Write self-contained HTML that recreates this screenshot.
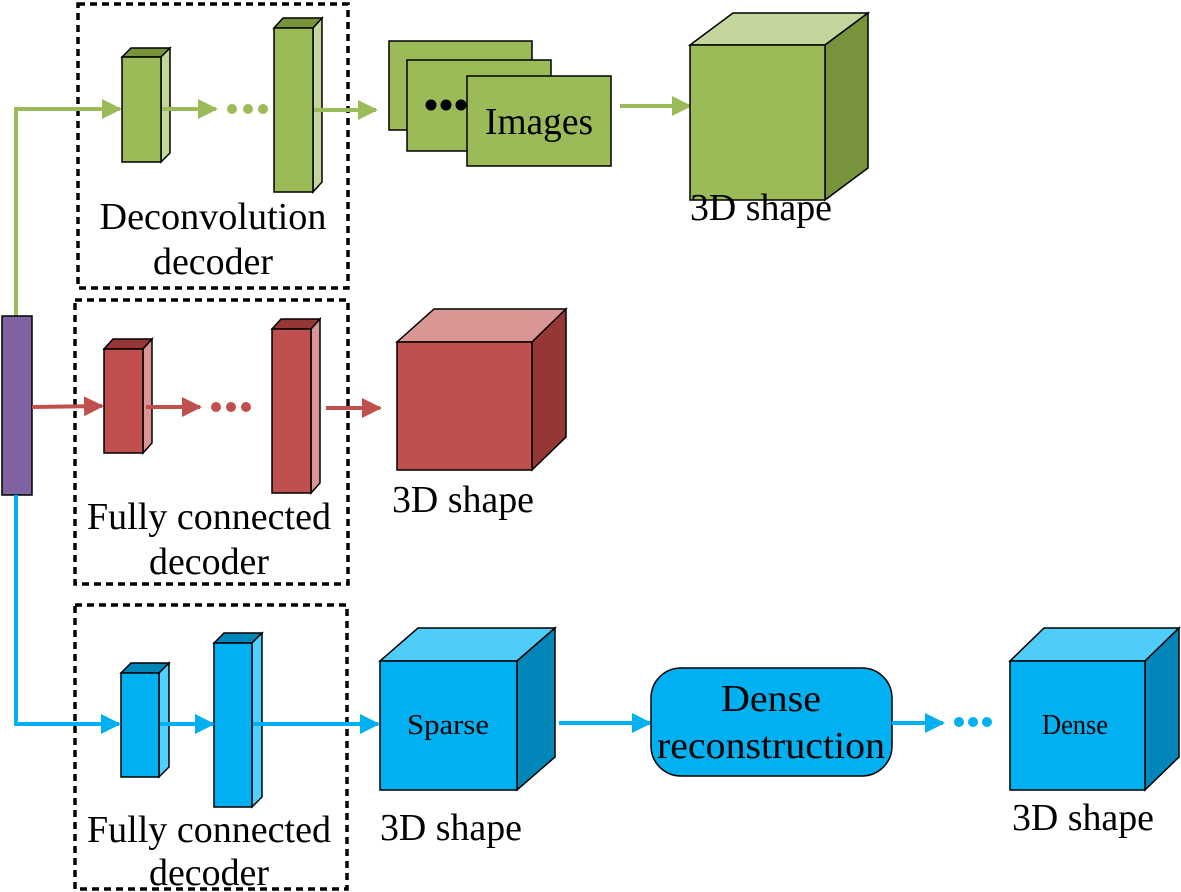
<!DOCTYPE html>
<html><head><style>html,body{margin:0;padding:0;background:#fff}svg{display:block}</style></head>
<body>
<svg width="1181" height="892" viewBox="0 0 1181 892" xmlns="http://www.w3.org/2000/svg" font-family="Liberation Serif, serif">
<defs>
<marker id="ag" markerWidth="5" markerHeight="5" refX="4.5" refY="2.5" orient="auto" markerUnits="strokeWidth"><path d="M0,0 L5,2.5 L0,5 z" fill="#9BBB59"/></marker>
<marker id="ar" markerWidth="5" markerHeight="5" refX="4.5" refY="2.5" orient="auto" markerUnits="strokeWidth"><path d="M0,0 L5,2.5 L0,5 z" fill="#C0504D"/></marker>
<marker id="ab" markerWidth="5" markerHeight="5" refX="4.5" refY="2.5" orient="auto" markerUnits="strokeWidth"><path d="M0,0 L5,2.5 L0,5 z" fill="#00B0F0"/></marker>
</defs>
<g fill="none" stroke="#000" stroke-width="3.5" stroke-dasharray="7,5">
<rect x="78" y="4" width="270" height="284"/>
<rect x="75" y="300" width="273" height="284"/>
<rect x="75" y="605" width="272" height="284"/>
</g>
<!-- green -->
<polyline points="16,316 16,109 120,109" fill="none" stroke="#9BBB59" stroke-width="4" marker-end="url(#ag)"/>
<g stroke="#000" stroke-width="1.5">
<polygon points="122,57 131,48 170,48 161,57" fill="#77933C"/>
<polygon points="161,57 170,48 170,153 161,162" fill="#C3D69B"/>
<rect x="122" y="57" width="39" height="105" fill="#9BBB59"/>
<polygon points="274,28 283,18 322,18 313,28" fill="#77933C"/>
<polygon points="313,28 322,18 322,182 313,192" fill="#C3D69B"/>
<rect x="274" y="28" width="39" height="164" fill="#9BBB59"/>
</g>
<line x1="162" y1="109" x2="216" y2="109" stroke="#9BBB59" stroke-width="4" marker-end="url(#ag)"/>
<g fill="#9BBB59"><circle cx="232" cy="109" r="5"/><circle cx="248" cy="109" r="5"/><circle cx="263" cy="109" r="5"/></g>
<line x1="314" y1="110" x2="376" y2="110" stroke="#9BBB59" stroke-width="4" marker-end="url(#ag)"/>
<g stroke="#000" stroke-width="1.5" fill="#9BBB59">
<rect x="389" y="41" width="143" height="89"/>
<rect x="407" y="60" width="144" height="91"/>
<rect x="467" y="76" width="144" height="90"/>
</g>
<g fill="#000"><circle cx="431" cy="105" r="5.5"/><circle cx="446" cy="105" r="5.5"/><circle cx="461" cy="105" r="5.5"/></g>
<text x="539" y="134" font-size="38" text-anchor="middle" textLength="108" lengthAdjust="spacingAndGlyphs">Images</text>
<line x1="620" y1="106" x2="690" y2="106" stroke="#9BBB59" stroke-width="4" marker-end="url(#ag)"/>
<g stroke="#000" stroke-width="1.5">
<polygon points="690,45 733,13 868,13 825,45" fill="#C3D69B"/>
<polygon points="825,45 868,13 868,168 825,200" fill="#77933C"/>
<rect x="690" y="45" width="135" height="155" fill="#9BBB59"/>
</g>
<text x="761" y="220" font-size="38" text-anchor="middle" textLength="142" lengthAdjust="spacingAndGlyphs">3D shape</text>
<text x="213" y="229" font-size="38" text-anchor="middle" textLength="227" lengthAdjust="spacingAndGlyphs">Deconvolution</text>
<text x="213" y="274" font-size="38" text-anchor="middle" textLength="120" lengthAdjust="spacingAndGlyphs">decoder</text>
<!-- purple -->
<rect x="2" y="316" width="30" height="179" fill="#8064A2" stroke="#000" stroke-width="1.5"/>
<!-- red -->
<line x1="32" y1="407" x2="102" y2="406" stroke="#C0504D" stroke-width="4" marker-end="url(#ar)"/>
<g stroke="#000" stroke-width="1.5">
<polygon points="104,349 113,339 152,339 143,349" fill="#953735"/>
<polygon points="143,349 152,339 152,443 143,453" fill="#D99694"/>
<rect x="104" y="349" width="39" height="104" fill="#C0504D"/>
<polygon points="272,329 281,319 320,319 311,329" fill="#953735"/>
<polygon points="311,329 320,319 320,483 311,493" fill="#D99694"/>
<rect x="272" y="329" width="39" height="164" fill="#C0504D"/>
</g>
<line x1="146" y1="407" x2="200" y2="407" stroke="#C0504D" stroke-width="4" marker-end="url(#ar)"/>
<g fill="#C0504D"><circle cx="216" cy="407" r="5"/><circle cx="231" cy="407" r="5"/><circle cx="246" cy="407" r="5"/></g>
<line x1="326" y1="408" x2="380" y2="408" stroke="#C0504D" stroke-width="4" marker-end="url(#ar)"/>
<g stroke="#000" stroke-width="1.5">
<polygon points="397,342 434,309 566,309 532,342" fill="#D99694"/>
<polygon points="532,342 566,309 566,437 532,470" fill="#953735"/>
<rect x="397" y="342" width="135" height="128" fill="#C0504D"/>
</g>
<text x="463" y="512" font-size="38" text-anchor="middle" textLength="142" lengthAdjust="spacingAndGlyphs">3D shape</text>
<text x="209" y="529" font-size="38" text-anchor="middle" textLength="244" lengthAdjust="spacingAndGlyphs">Fully connected</text>
<text x="209" y="574" font-size="38" text-anchor="middle" textLength="120" lengthAdjust="spacingAndGlyphs">decoder</text>
<!-- blue -->
<polyline points="16,495 16,724 119,724" fill="none" stroke="#00B0F0" stroke-width="4" marker-end="url(#ab)"/>
<g stroke="#000" stroke-width="1.5">
<polygon points="121,673 131,663 169,663 159,673" fill="#0086B8"/>
<polygon points="159,673 169,663 169,767 159,777" fill="#4FD0FF"/>
<rect x="121" y="673" width="38" height="104" fill="#00B0F0"/>
<polygon points="214,643 224,633 262,633 252,643" fill="#0086B8"/>
<polygon points="252,643 262,633 262,797 252,807" fill="#4FD0FF"/>
<rect x="214" y="643" width="38" height="164" fill="#00B0F0"/>
</g>
<line x1="160" y1="724" x2="213" y2="724" stroke="#00B0F0" stroke-width="4" marker-end="url(#ab)"/>
<line x1="253" y1="724" x2="378" y2="724" stroke="#00B0F0" stroke-width="4" marker-end="url(#ab)"/>
<g stroke="#000" stroke-width="1.5">
<polygon points="380,661 418,628 555,628 517,661" fill="#4FCCF7"/>
<polygon points="517,661 555,628 555,757 517,790" fill="#0086B8"/>
<rect x="380" y="661" width="137" height="129" fill="#00B0F0"/>
</g>
<text x="448" y="734" font-size="28" text-anchor="middle" textLength="82" lengthAdjust="spacingAndGlyphs">Sparse</text>
<text x="451" y="840" font-size="38" text-anchor="middle" textLength="142" lengthAdjust="spacingAndGlyphs">3D shape</text>
<line x1="559" y1="723" x2="650" y2="723" stroke="#00B0F0" stroke-width="4" marker-end="url(#ab)"/>
<rect x="651" y="668" width="241" height="108" rx="30" fill="#00B0F0" stroke="#000" stroke-width="1.5"/>
<text x="771" y="711" font-size="38" text-anchor="middle" textLength="100" lengthAdjust="spacingAndGlyphs">Dense</text>
<text x="771" y="758" font-size="38" text-anchor="middle" textLength="228" lengthAdjust="spacingAndGlyphs">reconstruction</text>
<line x1="892" y1="723" x2="943" y2="723" stroke="#00B0F0" stroke-width="4" marker-end="url(#ab)"/>
<g fill="#00B0F0"><circle cx="959" cy="722" r="5"/><circle cx="973" cy="722" r="5"/><circle cx="987" cy="722" r="5"/></g>
<g stroke="#000" stroke-width="1.5">
<polygon points="1010,661 1044,628 1179,628 1145,661" fill="#4FCCF7"/>
<polygon points="1145,661 1179,628 1179,757 1145,790" fill="#0086B8"/>
<rect x="1010" y="661" width="135" height="129" fill="#00B0F0"/>
</g>
<text x="1075" y="734" font-size="28" text-anchor="middle" textLength="66" lengthAdjust="spacingAndGlyphs">Dense</text>
<text x="1083" y="830" font-size="38" text-anchor="middle" textLength="142" lengthAdjust="spacingAndGlyphs">3D shape</text>
<text x="209" y="842" font-size="38" text-anchor="middle" textLength="244" lengthAdjust="spacingAndGlyphs">Fully connected</text>
<text x="209" y="885" font-size="38" text-anchor="middle" textLength="120" lengthAdjust="spacingAndGlyphs">decoder</text>
</svg>
</body></html>
